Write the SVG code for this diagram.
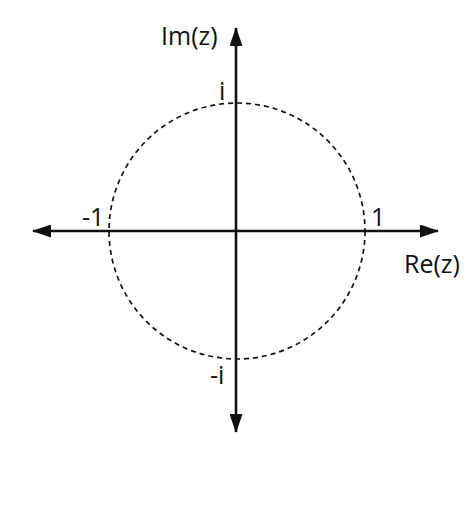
<svg xmlns="http://www.w3.org/2000/svg" width="474" height="505" viewBox="0 0 474 505">
<style>
.lbl{font-family:"Open Sans","Noto Sans","Liberation Sans",sans-serif;font-size:25px;font-weight:500;fill:#111}
.axis{stroke:#111;stroke-width:2.6;fill:none}
</style>
<defs>
<marker id="ah" viewBox="0 0 19 13" refX="18" refY="6.5" markerWidth="19" markerHeight="13" markerUnits="userSpaceOnUse" orient="auto">
<path d="M0,0 L19,6.5 L0,13 Z" fill="#111"/>
</marker>
</defs>
<rect width="474" height="505" fill="#fff"/>
<g id="connectors">
<circle id="unit-circle" cx="237" cy="231" r="128" fill="none" stroke="#111" stroke-width="1.7" stroke-dasharray="5,4"/>
<line class="axis" x1="236" y1="231" x2="438" y2="231" marker-end="url(#ah)"/>
<line class="axis" x1="236" y1="231" x2="33" y2="231" marker-end="url(#ah)"/>
<line class="axis" x1="236" y1="231" x2="236" y2="28" marker-end="url(#ah)"/>
<line class="axis" x1="236" y1="231" x2="236" y2="432" marker-end="url(#ah)"/>
</g>
<g id="label-im"><text class="lbl" x="161" y="45">Im(z)</text></g>
<g id="label-re"><text class="lbl" x="404" y="273">Re(z)</text></g>
<g id="label-i"><text class="lbl" x="219" y="100">i</text></g>
<g id="label-minus-i"><text class="lbl" x="210" y="384">-i</text></g>
<g id="label-minus-1"><text class="lbl" x="82" y="226">-1</text></g>
<g id="label-1"><text class="lbl" x="371" y="226">1</text></g>
</svg>
